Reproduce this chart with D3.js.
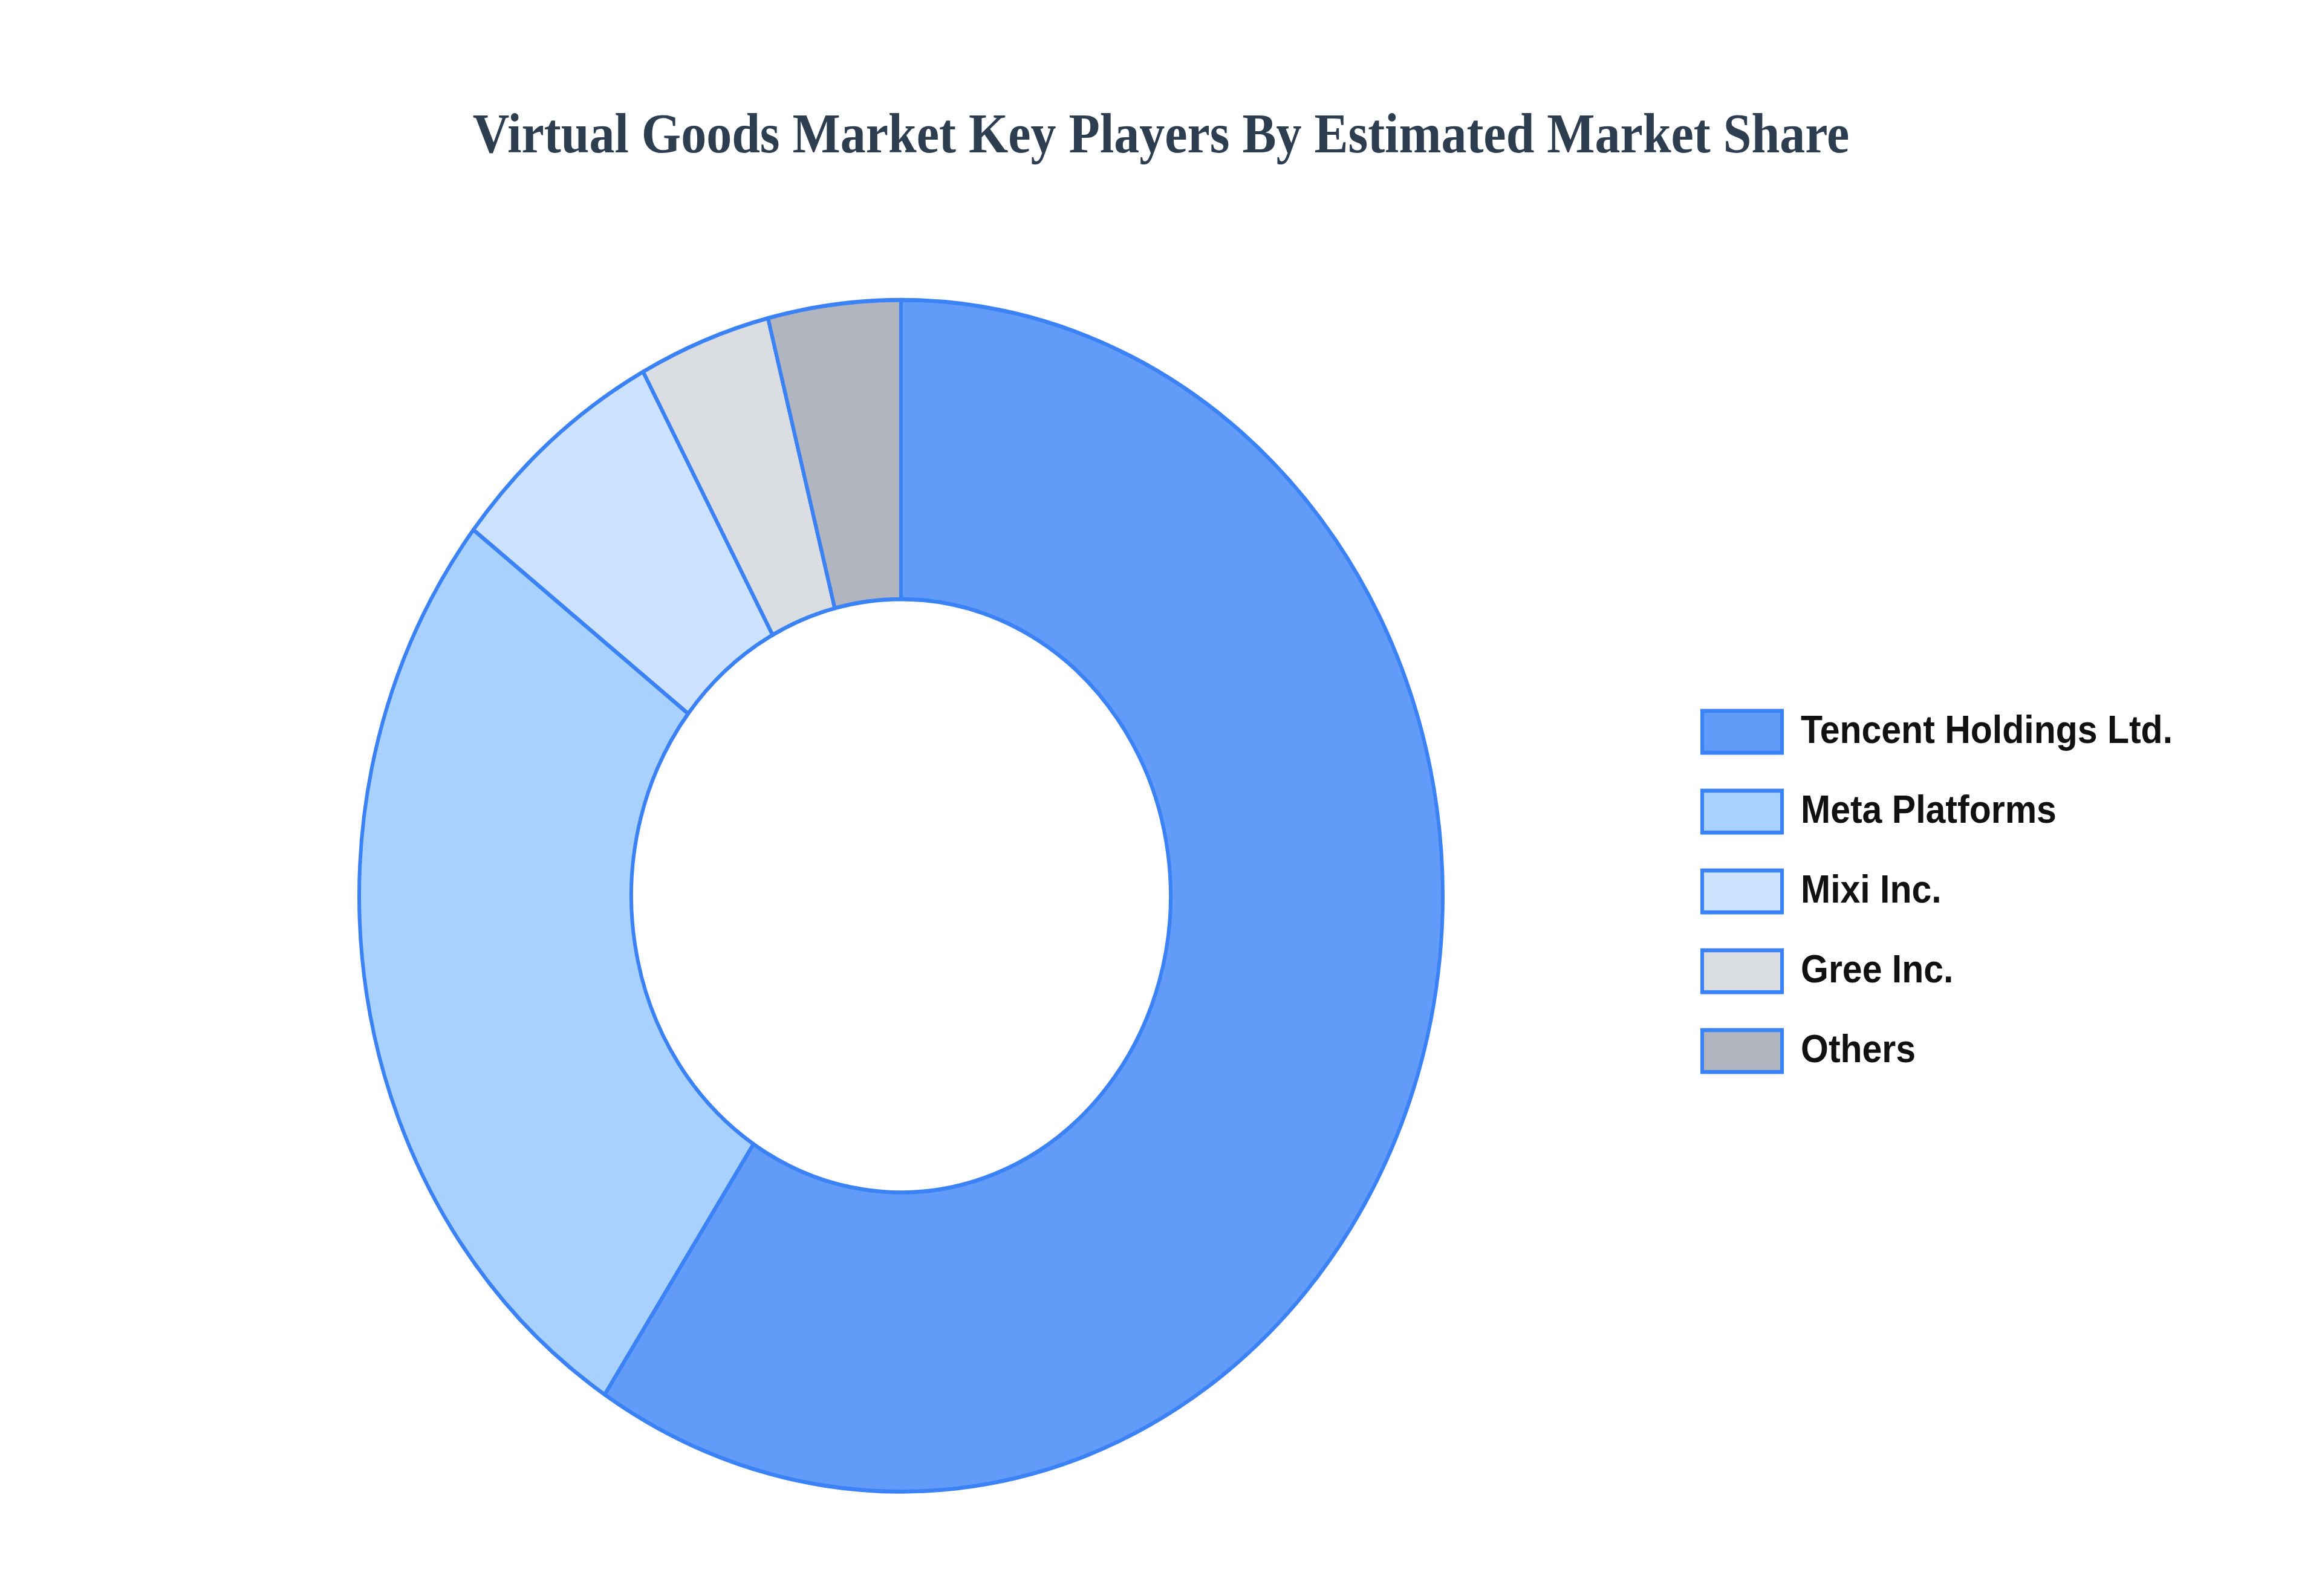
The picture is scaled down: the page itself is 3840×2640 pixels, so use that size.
<!DOCTYPE html>
<html>
<head>
<meta charset="utf-8">
<script src="https://cdn.jsdelivr.net/npm/d3@7"></script>
<style>
  html, body { margin: 0; padding: 0; background: #fff; }
  svg { display: block; }
</style>
</head>
<body>
<div id="chart"></div>
<script>
// chart data
const companies = ["Tencent Holdings Ltd.", "Meta Platforms", "Mixi Inc.", "Gree Inc.", "Others"];
const shares = [45, 20, 5, 3, 3];
const fills = ["#3b82f6", "#93c5fd", "#bfdbfe", "#d1d5db", "#9ca3af"];
const titleText = "Virtual Goods Market Key Players By Estimated Market Share";

const W = 3840, H = 2640;
const stretch = 1.1; // picture is a little taller than wide

const svg = d3.select("#chart")
  .append("svg")
  .attr("width", W)
  .attr("height", H);

const root = svg.append("g")
  .attr("transform", `scale(1, ${stretch})`);

// title
root.append("text")
  .attr("x", 1920)
  .attr("y", 229)
  .attr("text-anchor", "middle")
  .attr("font-family", "'Liberation Serif', 'Times New Roman', serif")
  .attr("font-weight", "bold")
  .attr("font-size", 84)
  .attr("fill", "#2c3e50")
  .text(titleText);

// donut
const cx = 1490, cy = 1347;
const outerR = 896, innerR = 446;

const data = companies.map((c, i) => ({ name: c, value: shares[i], fill: fills[i] }));

const pie = d3.pie().sort(null).value(d => d.value);
const arc = d3.arc().innerRadius(innerR).outerRadius(outerR);

const donut = root.append("g")
  .attr("transform", `translate(${cx}, ${cy})`);

donut.selectAll("path")
  .data(pie(data))
  .enter()
  .append("path")
  .attr("d", arc)
  .attr("fill", d => d.data.fill)
  .attr("fill-opacity", 0.8)
  .attr("stroke", "#3b82f6")
  .attr("stroke-width", 6)
  .attr("stroke-linejoin", "round");

// legend
const legendY = d3.scaleBand()
  .domain(companies)
  .range([1040, 1040 + 120 * companies.length])
  .paddingInner(0);

const legend = root.append("g")
  .attr("transform", "translate(2812, 0)");

const rows = legend.selectAll(".row")
  .data(data)
  .enter()
  .append("g")
  .attr("class", "row")
  .attr("transform", d => `translate(0, ${legendY(d.name)})`);

rows.append("rect")
  .attr("x", 3)
  .attr("y", 29)
  .attr("width", 132)
  .attr("height", 63)
  .attr("fill", d => d.fill)
  .attr("fill-opacity", 0.8)
  .attr("stroke", "#3b82f6")
  .attr("stroke-width", 6);

rows.append("text")
  .attr("x", 166)
  .attr("y", 77)
  .attr("font-family", "'Liberation Sans', Arial, sans-serif")
  .attr("font-weight", "bold")
  .attr("font-size", 59)
  .attr("fill", "#111")
  .text(d => d.name);
</script>
</body>
</html>
